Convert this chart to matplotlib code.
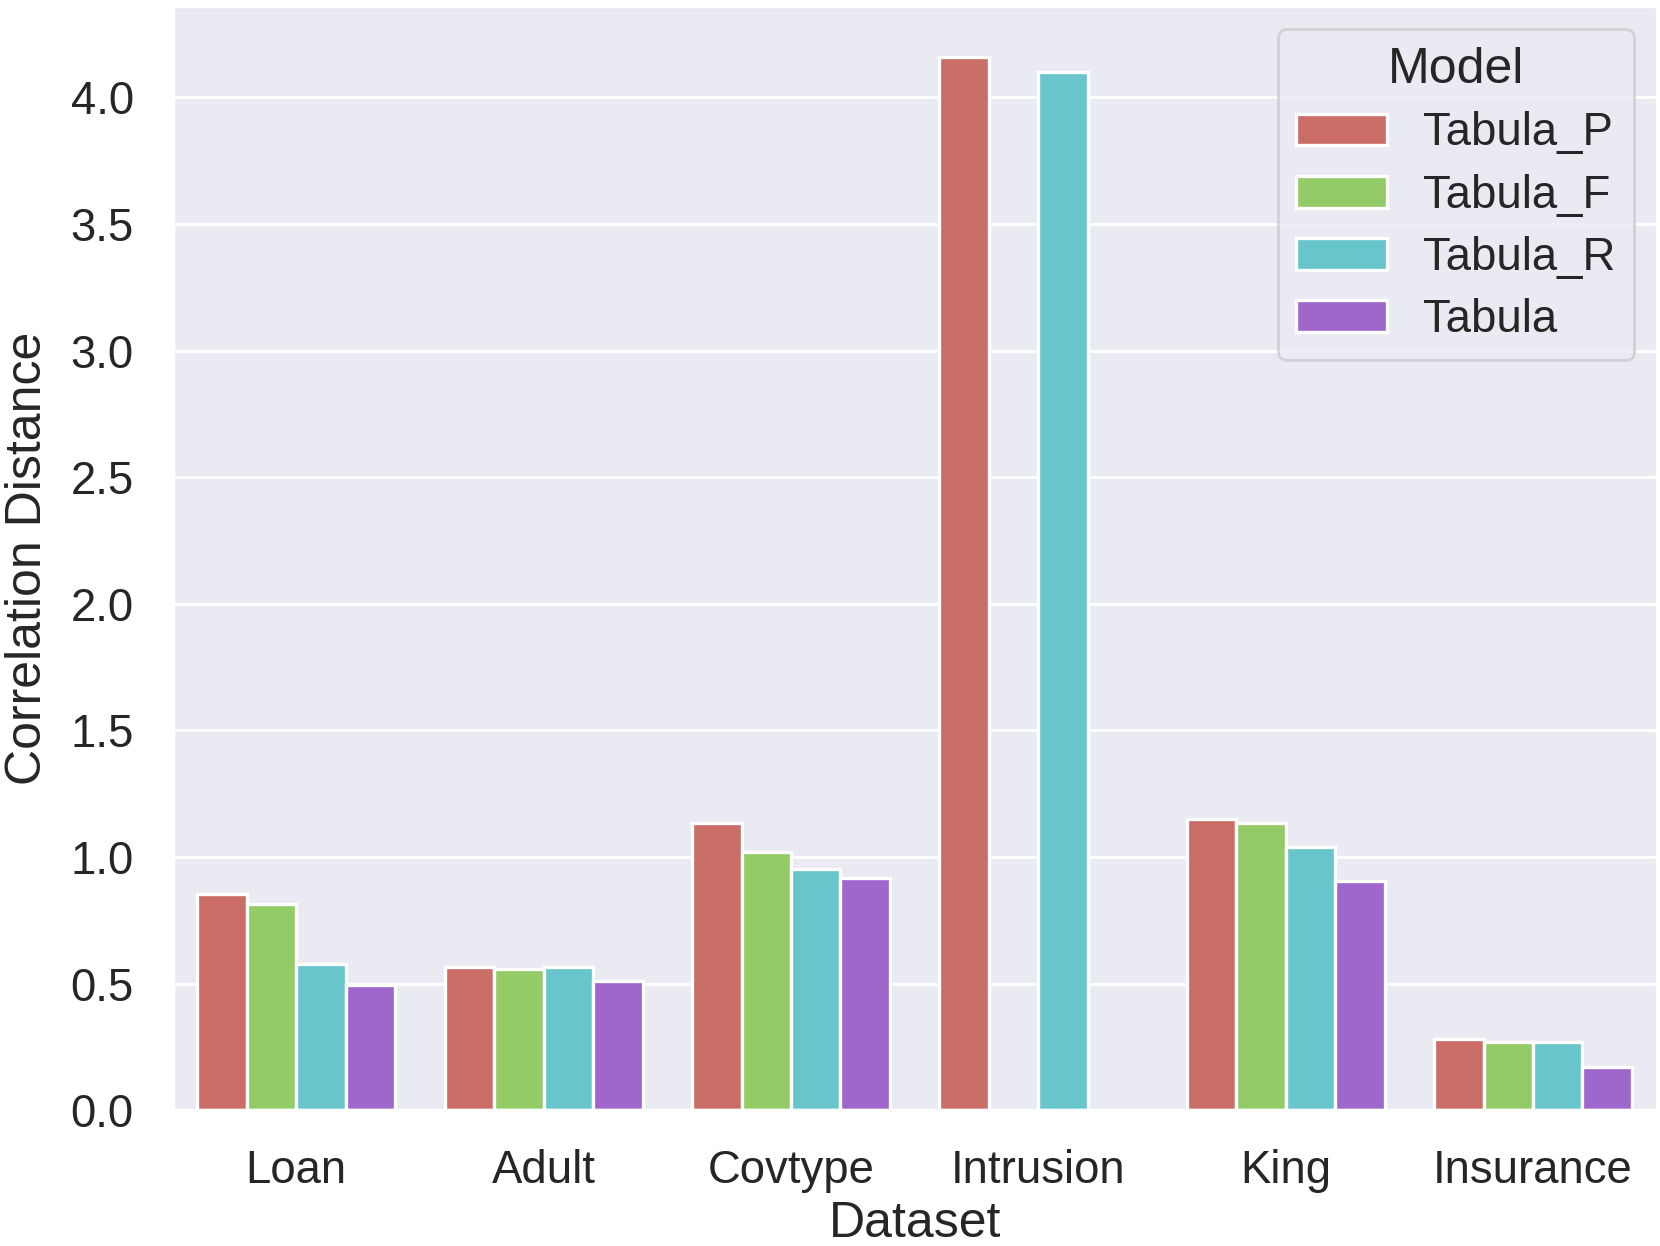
import numpy as np
import pandas as pd
import matplotlib
matplotlib.use("Agg")
import matplotlib.pyplot as plt
import seaborn as sns

# values
datasets = ["Loan", "Adult", "Covtype", "Intrusion", "King", "Insurance"]
models = ["Tabula_P", "Tabula_F", "Tabula_R", "Tabula"]
tabula_p = [0.855, 0.566, 1.134, 4.161, 1.150, 0.282]
tabula_f = [0.815, 0.558, 1.019, np.nan, 1.136, 0.268]
tabula_r = [0.579, 0.566, 0.951, 4.102, 1.038, 0.271]
tabula = [0.494, 0.509, 0.918, np.nan, 0.905, 0.172]

rows = []
for m, vals in zip(models, [tabula_p, tabula_f, tabula_r, tabula]):
    for d, v in zip(datasets, vals):
        rows.append({"Dataset": d, "Model": m, "Correlation Distance": v})
df = pd.DataFrame(rows)

sns.set_theme(style="darkgrid", font_scale=1.4)
plt.rcParams["font.family"] = ["Liberation Sans", "DejaVu Sans"]

fig, ax = plt.subplots(figsize=(8.3, 6.23), dpi=200)
sns.barplot(data=df.dropna(), x="Dataset", y="Correlation Distance", hue="Model",
            order=datasets, hue_order=models, palette="hls", ax=ax,
            edgecolor="white", linewidth=1.2)
ax.set_xlabel("Dataset", fontsize=18, labelpad=3)
ax.set_ylabel("Correlation Distance", fontsize=18, labelpad=7)
ax.tick_params(labelsize=16.4, pad=8)
ax.set_xlim(-0.5, 5.5)
ax.set_ylim(0, 4.36)
leg = ax.legend(title="Model", loc="upper right", fontsize=16.4, title_fontsize=18,
                labelspacing=0.4)

plt.subplots_adjust(left=0.104, right=0.998, bottom=0.109, top=0.995)
plt.savefig("out.png", dpi=200)
